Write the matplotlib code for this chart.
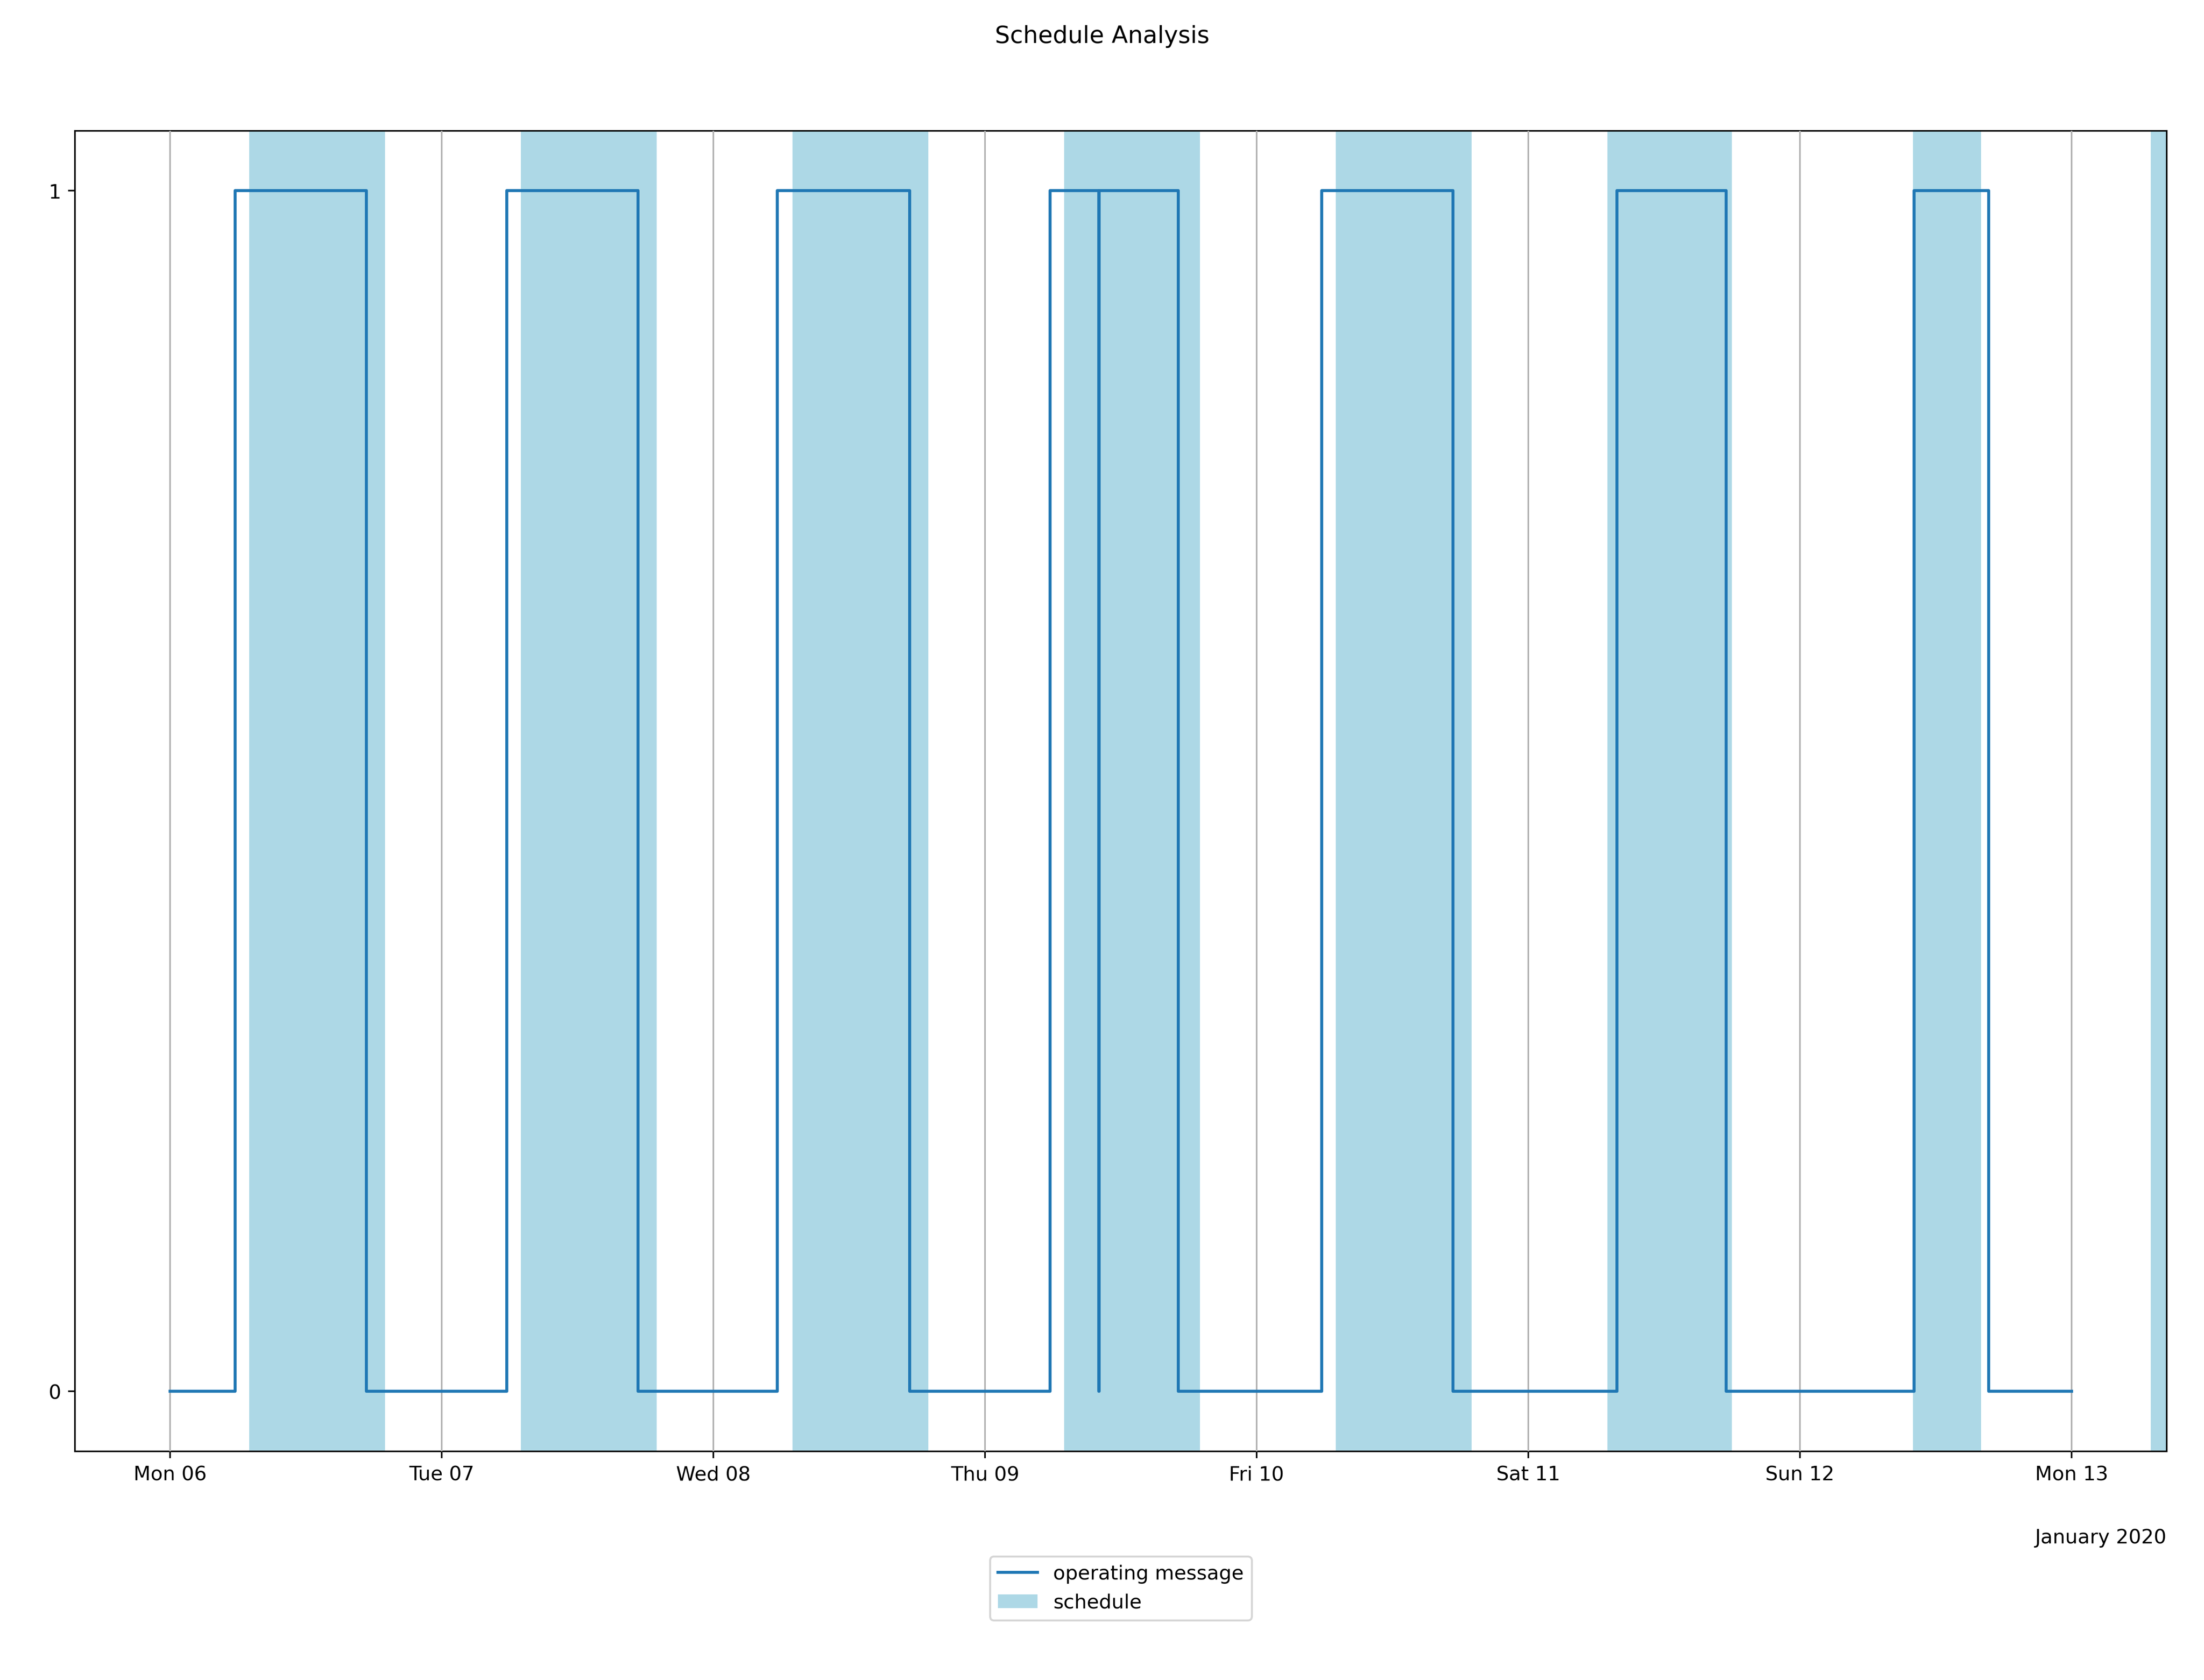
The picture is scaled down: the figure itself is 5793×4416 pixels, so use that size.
import matplotlib
matplotlib.use("Agg")
import matplotlib.pyplot as plt
import matplotlib.dates as mdates
import pandas as pd

# operating message step signal (time, state)
msg_times = ["2020-01-06 00:00", "2020-01-06 05:45", "2020-01-06 17:20",
             "2020-01-07 05:45", "2020-01-07 17:20",
             "2020-01-08 05:40", "2020-01-08 17:20",
             "2020-01-09 05:45", "2020-01-09 10:03", "2020-01-09 10:06", "2020-01-09 17:05",
             "2020-01-10 05:45", "2020-01-10 17:20",
             "2020-01-11 07:50", "2020-01-11 17:30",
             "2020-01-12 10:05", "2020-01-12 16:40",
             "2020-01-13 00:00"]
msg_state = [0, 1, 0, 1, 0, 1, 0, 1, 0, 1, 0, 1, 0, 1, 0, 1, 0, 0]

# schedule windows
sched_start = ["2020-01-06 07:00", "2020-01-07 07:00", "2020-01-08 07:00", "2020-01-09 07:00",
               "2020-01-10 07:00", "2020-01-11 07:00", "2020-01-12 10:00", "2020-01-13 07:00"]
sched_end = ["2020-01-06 19:00", "2020-01-07 19:00", "2020-01-08 19:00", "2020-01-09 19:00",
             "2020-01-10 19:00", "2020-01-11 18:00", "2020-01-12 16:00", "2020-01-13 19:00"]

t = pd.to_datetime(msg_times)

fig = plt.figure(figsize=(15.49, 11.81), dpi=374)
ax = fig.add_axes([0.034, 0.136, 0.949, 0.786])
ax.step(t, msg_state, where="post", color="tab:blue", label="operating message", zorder=3)
xlim = ax.get_xlim()
for i, (s, e) in enumerate(zip(sched_start, sched_end)):
    ax.axvspan(pd.Timestamp(s), pd.Timestamp(e), color="lightblue", lw=0,
               label="schedule" if i == 0 else None, zorder=1)
ax.set_xlim(xlim)
ax.set_yticks([0, 1])
ax.xaxis.set_major_locator(mdates.DayLocator())
ax.xaxis.set_major_formatter(mdates.DateFormatter("%a %d"))
ax.grid(axis="x", color="#b0b0b0", zorder=2)
ax.set_axisbelow(False)
ax.text(1.0, -0.058, "January 2020", transform=ax.transAxes, ha="right", va="top", fontsize=10)
fig.suptitle("Schedule Analysis", y=0.985, fontsize=12)
ax.legend(loc="upper center", bbox_to_anchor=(0.5, -0.072), fontsize=10)
fig.savefig("out.png", dpi=374)
